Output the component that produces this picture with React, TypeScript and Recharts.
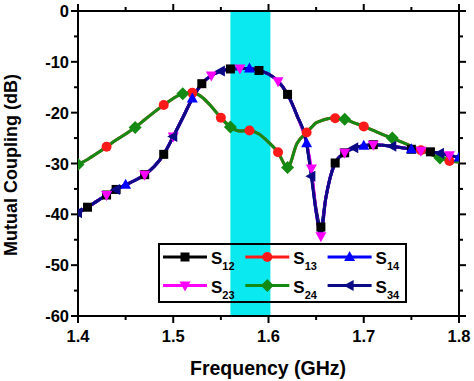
import React from 'react';
import { LineChart, Line, XAxis, YAxis, ReferenceArea, Legend, Label } from 'recharts';

const freq = [
  1.4, 1.41, 1.42, 1.43, 1.44, 1.45, 1.46, 1.47, 1.48, 1.49, 1.5, 1.51, 1.52, 1.53, 1.54,
  1.55, 1.56, 1.57, 1.58, 1.59, 1.6, 1.61, 1.62, 1.63, 1.64, 1.645, 1.65, 1.655, 1.66,
  1.665, 1.67, 1.68, 1.69, 1.7, 1.71, 1.72, 1.73, 1.74, 1.75, 1.76, 1.77, 1.78, 1.79, 1.8,
];

const s12 = [
  -39.7, -38.6, -37.4, -36.2, -35.1, -34.2, -33.3, -32.2, -30.6, -28.2, -24.7, -21.0, -17.2, -14.3, -12.7,
  -11.8, -11.4, -11.3, -11.3, -11.7, -12.4, -13.8, -16.4, -20.6, -26.0, -32.0, -39.0, -42.5, -37.0,
  -32.6, -29.9, -27.9, -26.9, -26.5, -26.3, -26.4, -26.6, -26.9, -27.2, -27.5, -27.7, -28.0, -28.4, -28.8,
];
const s14 = [
  -39.7, -38.6, -37.4, -36.2, -35.1, -34.2, -33.3, -32.2, -30.6, -28.2, -24.7, -21.0, -17.2, -14.3, -12.7,
  -11.8, -11.4, -11.3, -11.3, -11.7, -12.4, -13.8, -16.4, -20.6, -26.0, -32.0, -39.5, -43.0, -37.0,
  -32.6, -29.9, -27.9, -26.9, -26.5, -26.3, -26.4, -26.6, -26.9, -27.2, -27.5, -27.7, -28.0, -28.4, -28.8,
];
const s23 = [
  -39.7, -38.6, -37.4, -36.2, -35.1, -34.2, -33.3, -32.2, -30.6, -28.2, -24.7, -21.0, -17.2, -14.3, -12.7,
  -11.8, -11.4, -11.3, -11.3, -11.7, -12.4, -13.8, -16.4, -20.6, -26.0, -31.0, -39.5, -44.3, -37.0,
  -32.6, -29.9, -27.9, -26.9, -26.5, -26.3, -26.4, -26.6, -26.9, -27.2, -27.5, -27.7, -28.0, -28.4, -28.8,
];
const s34 = [
  -39.7, -38.6, -37.4, -36.2, -35.1, -34.2, -33.3, -32.2, -30.6, -28.2, -24.7, -21.0, -17.2, -14.3, -12.7,
  -11.8, -11.4, -11.3, -11.3, -11.7, -12.4, -13.8, -16.4, -20.6, -26.0, -32.5, -39.5, -44.0, -37.0,
  -32.6, -29.9, -27.9, -26.9, -26.5, -26.3, -26.4, -26.6, -26.9, -27.2, -27.5, -27.7, -28.0, -28.4, -28.8,
];
const s13 = [
  -30.2, -29.2, -28.0, -26.7, -25.4, -24.2, -22.9, -21.4, -19.9, -18.5, -17.2, -16.3, -16.1, -16.9, -18.8,
  -21.0, -22.8, -23.6, -23.5, -24.2, -25.8, -27.8, -30.8, -26.0, -23.9, -22.9, -22.0, -21.6, -21.3,
  -21.1, -21.1, -21.3, -22.0, -22.7, -23.5, -24.3, -25.0, -25.8, -26.6, -27.4, -28.2, -28.9, -29.5, -29.7,
];
const s24 = [
  -30.2, -29.2, -28.0, -26.7, -25.4, -24.2, -22.9, -21.4, -19.9, -18.5, -17.2, -16.3, -16.1, -16.9, -18.8,
  -21.0, -22.8, -23.6, -23.5, -24.2, -25.8, -27.8, -30.8, -26.0, -23.9, -22.9, -22.0, -21.6, -21.3,
  -21.1, -21.1, -21.3, -22.0, -22.7, -23.5, -24.3, -25.0, -25.8, -26.6, -27.4, -28.2, -28.9, -29.5, -29.7,
];

// frequencies where each series shows a symbol
const markS12 = [1.41, 1.43, 1.44, 1.47, 1.49, 1.53, 1.56, 1.59, 1.62, 1.655, 1.67, 1.68, 1.71, 1.75, 1.77];
const markS13 = [1.43, 1.49, 1.52, 1.55, 1.58, 1.61, 1.64, 1.67, 1.7, 1.76, 1.79];
const markS14 = [1.45, 1.52, 1.58, 1.64, 1.7, 1.75, 1.8];
const markS23 = [1.43, 1.47, 1.5, 1.54, 1.57, 1.61, 1.645, 1.655, 1.68, 1.71, 1.76, 1.79];
const markS24 = [1.4, 1.46, 1.51, 1.56, 1.62, 1.68, 1.73, 1.78];
const markS34 = [1.4, 1.44, 1.5, 1.55, 1.645, 1.69, 1.73, 1.78];

const xTicks = [1.4, 1.45, 1.5, 1.55, 1.6, 1.65, 1.7, 1.75, 1.8];
const yTicks = [0, -5, -10, -15, -20, -25, -30, -35, -40, -45, -50, -55, -60];
const band = [1.56, 1.602];

const W = 474;
const H = 381;
const LEFT = 78;
const RIGHT = 459;
const TOP = 11;
const BOTTOM = 316;
const FONT = '"Liberation Sans", Arial, sans-serif';

const series = [
  { key: 's12', sub: '12', color: '#000000', shape: 'square', values: s12, marks: markS12 },
  { key: 's13', sub: '13', color: '#ff1a1a', shape: 'circle', values: s13, marks: markS13 },
  { key: 's14', sub: '14', color: '#0000ff', shape: 'up', values: s14, marks: markS14 },
  { key: 's23', sub: '23', color: '#ff00ff', shape: 'down', values: s23, marks: markS23 },
  { key: 's24', sub: '24', color: '#138a13', shape: 'diamond', values: s24, marks: markS24 },
  { key: 's34', sub: '34', color: '#0a0a84', shape: 'left', values: s34, marks: markS34 },
];

const rows = freq.map((f, i) => {
  const r: any = { f };
  series.forEach((s) => (r[s.key] = s.values[i]));
  return r;
});

const Marker = ({ shape, cx, cy, color }: any) => {
  switch (shape) {
    case 'square':
      return <rect x={cx - 4.5} y={cy - 4.5} width={9} height={9} fill={color} />;
    case 'circle':
      return <circle cx={cx} cy={cy} r={5} fill={color} />;
    case 'up':
      return <polygon points={`${cx},${cy - 6} ${cx + 5.5},${cy + 4} ${cx - 5.5},${cy + 4}`} fill={color} />;
    case 'down':
      return <polygon points={`${cx},${cy + 6} ${cx + 5.5},${cy - 4} ${cx - 5.5},${cy - 4}`} fill={color} />;
    case 'diamond':
      return <polygon points={`${cx},${cy - 6.5} ${cx + 6.5},${cy} ${cx},${cy + 6.5} ${cx - 6.5},${cy}`} fill={color} />;
    default:
      return <polygon points={`${cx - 6},${cy} ${cx + 4},${cy - 5.5} ${cx + 4},${cy + 5.5}`} fill={color} />;
  }
};

const isMajorX = (v: number) => Math.abs(v * 10 - Math.round(v * 10)) < 1e-6;

const XTick = ({ x, payload }: any) => {
  const major = isMajorX(payload.value);
  const len = major ? 7 : 4;
  return (
    <g>
      <line x1={x} x2={x} y1={BOTTOM} y2={BOTTOM + len} stroke="#000" strokeWidth={2} />
      <line x1={x} x2={x} y1={TOP} y2={TOP - len} stroke="#000" strokeWidth={2} />
      {major && (
        <text x={x} y={BOTTOM + 26} textAnchor="middle" fontFamily={FONT} fontWeight="bold" fontSize={16.5} fill="#000">
          {payload.value.toFixed(1)}
        </text>
      )}
    </g>
  );
};

const YTick = ({ y, payload }: any) => {
  const major = payload.value % 10 === 0;
  const len = major ? 7 : 4;
  return (
    <g>
      <line x1={LEFT} x2={LEFT - len} y1={y} y2={y} stroke="#000" strokeWidth={2} />
      <line x1={RIGHT} x2={RIGHT + len} y1={y} y2={y} stroke="#000" strokeWidth={2} />
      {major && (
        <text x={LEFT - 9} y={y + 6} textAnchor="end" fontFamily={FONT} fontWeight="bold" fontSize={16.5} fill="#000">
          {payload.value}
        </text>
      )}
    </g>
  );
};

const LegendBox = () => (
  <svg width={250} height={61} style={{ display: 'block' }}>
    <rect x={1} y={1} width={247} height={58} fill="none" stroke="#000" strokeWidth={2} />
    {series.map((s, i) => {
      const col = i % 3;
      const row = Math.floor(i / 3);
      const x0 = 5 + col * 82.3;
      const cy = 14 + row * 28.5;
      return (
        <g key={s.key}>
          <line x1={x0} x2={x0 + 44} y1={cy} y2={cy} stroke={s.color} strokeWidth={3} />
          <Marker shape={s.shape} cx={x0 + 22} cy={cy} color={s.color} />
          <text x={x0 + 48} y={cy + 7} fontFamily={FONT} fontWeight="bold" fontSize={17} fill="#000">
            S
            <tspan dy={6} fontSize={11}>
              {s.sub}
            </tspan>
          </text>
        </g>
      );
    })}
  </svg>
);

export default function App() {
  return (
    <div style={{ position: 'absolute', left: 0, top: 0, width: W, height: H, background: '#fff' }}>
      <LineChart width={W} height={H} data={rows} margin={{ top: TOP, right: W - RIGHT, left: 0, bottom: 0 }}>
        <ReferenceArea x1={band[0]} x2={band[1]} y1={-60} y2={0} fill="#0ae9f0" fillOpacity={1} stroke="none" ifOverflow="hidden" />
        <XAxis
          type="number"
          dataKey="f"
          domain={[1.4, 1.8]}
          ticks={xTicks}
          interval={0}
          height={H - BOTTOM}
          tick={<XTick />}
          tickLine={false}
          axisLine={{ stroke: '#000', strokeWidth: 2 }}
          allowDataOverflow
        >
          <Label
            content={() => (
              <text x={268} y={375} textAnchor="middle" fontFamily={FONT} fontWeight="bold" fontSize={19.5} fill="#000">
                Frequency (GHz)
              </text>
            )}
          />
        </XAxis>
        <YAxis
          type="number"
          domain={[-60, 0]}
          ticks={yTicks}
          interval={0}
          width={LEFT}
          tick={<YTick />}
          tickLine={false}
          axisLine={{ stroke: '#000', strokeWidth: 2 }}
          allowDataOverflow
        >
          <Label
            content={() => (
              <text
                x={17}
                y={165}
                transform="rotate(-90, 17, 165)"
                textAnchor="middle"
                fontFamily={FONT}
                fontWeight="bold"
                fontSize={18}
                fill="#000"
              >
                Mutual Coupling (dB)
              </text>
            )}
          />
        </YAxis>
        <ReferenceArea x1={1.4} x2={1.8} y1={-60} y2={0} fill="none" stroke="#000" strokeWidth={2} />
        {series.map((s) => (
          <Line
            key={s.key}
            dataKey={s.key}
            type="monotone"
            stroke={s.color}
            strokeWidth={3}
            isAnimationActive={false}
            activeDot={false}
            dot={(p: any) => {
              const on = s.marks.some((m) => Math.abs(m - p.payload.f) < 1e-6);
              return (
                <g key={`${s.key}-${p.index}`}>
                  {on && <Marker shape={s.shape} cx={p.cx} cy={p.cy} color={s.color} />}
                </g>
              );
            }}
          />
        ))}
        <Legend
          layout="horizontal"
          verticalAlign="middle"
          align="center"
          content={() => <LegendBox />}
          wrapperStyle={{ left: 158, top: 243, width: 250, height: 61 }}
        />
      </LineChart>
    </div>
  );
}
